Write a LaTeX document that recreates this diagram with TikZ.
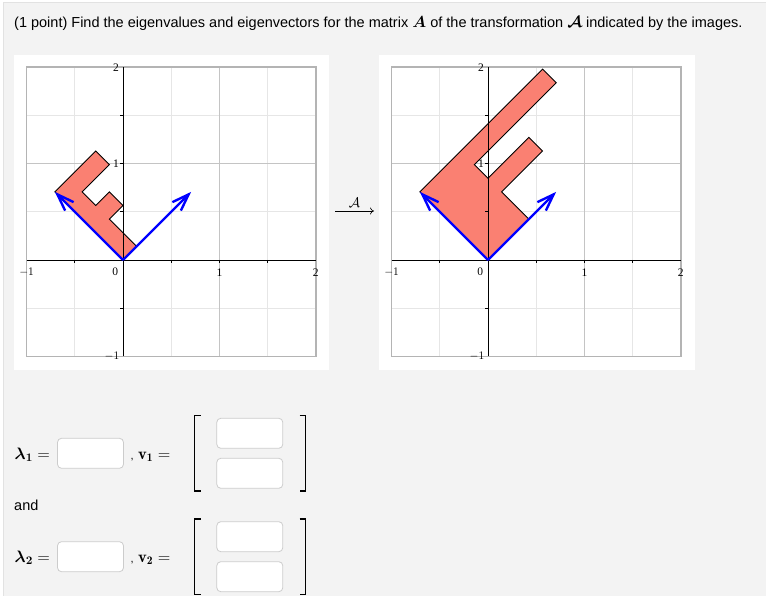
\RequirePackage{fix-cm}
\documentclass[tikz,border=0pt]{standalone}
\usepackage{amsmath,bm}
\usepackage{fontspec}
\newfontfamily\arialfont{Liberation Sans}
\newfontfamily\timesfont{Liberation Serif}
\usepackage{tikz}
\usetikzlibrary{arrows.meta, positioning}

\definecolor{pagegray}{HTML}{F3F3F3}
\definecolor{edgegray}{HTML}{E2E2E2}
\definecolor{gridlight}{HTML}{E6E6E6}
\definecolor{griddark}{HTML}{C4C4C4}
\definecolor{framegray}{HTML}{B4B4B4}
\definecolor{boxgray}{HTML}{CCCCCC}
\definecolor{salmonred}{HTML}{FA8072}

\begin{document}
\begin{tikzpicture}[
			x=1pt, y=-1pt,
			panel/.style={fill=white, draw=none},
			gridhalf/.style={gridlight, line width=0.8pt},
			gridone/.style={griddark, line width=0.8pt},
			plotframe/.style={framegray, line width=1.4pt},
			axisline/.style={black, line width=0.9pt},
			ticklabel/.style={font=\timesfont\fontsize{11.5}{12}\selectfont, inner sep=0pt},
			fshape/.style={draw=black, fill=salmonred, line width=0.9pt, line join=miter},
			eigvec/.style={draw=blue, line width=2.4pt, -{Straight Barb[length=17pt, width=12pt]}},
			mapto/.style={-{To[length=4pt, width=7pt]}, line width=0.6pt},
			ansbox/.style={draw=boxgray, fill=white, rounded corners=4pt, line width=0.8pt, minimum width=66pt, minimum height=30pt, inner sep=0pt},
			bracket/.style={line width=1.6pt},
			mathtext/.style={font=\fontsize{16.5}{18}\selectfont, inner sep=0pt, anchor=base west},
			plaintext/.style={font=\arialfont\fontsize{14.5}{17}\selectfont, inner sep=0pt, anchor=base west}
			]
			
			% Page
			\useasboundingbox (0,0) rectangle (766,596);
			\fill[white] (0,0) rectangle (766,596);
			\draw[fill=pagegray, draw=edgegray, line width=1pt] (3,2.5) rectangle (780,610);
			
			% Question
			\node (title) [plaintext] at (14,27.5) {(1 point) Find the eigenvalues and eigenvectors for the matrix {\fontsize{16}{18}\selectfont$\bm{A}$} of the transformation {\fontsize{16}{18}\selectfont$\bm{\mathcal{A}}$} indicated by the images.};
			
			% Panels
			\fill[panel] (14,55) rectangle (329,369.5);
			\fill[panel] (378.5,55) rectangle (694.5,369.5);
			
			% Plots (left: original, right: image)
			\foreach \ox/\pn/\sc in {123/L/1, 488/R/3} {
				\begin{scope}[shift={(\ox,260)}, x=96.4pt, y=96.4pt]
					\foreach \g in {-0.5,0.5,1.5} {
						\draw[gridhalf] (\g,-1) -- (\g,2);
						\draw[gridhalf] (-1,\g) -- (2,\g);
					}
					\draw[gridone] (1,-1) -- (1,2);
					\draw[gridone] (-1,1) -- (2,1);
					\draw[plotframe] (-1,-1) rectangle (2,2);
					
					\node (xm\pn) [ticklabel] at (-1,-0.13) {$-1$};
					\node (xz\pn) [ticklabel] at (-0.08,-0.125) {0};
					\node (xo\pn) [ticklabel] at (1,-0.13) {1};
					\node (xt\pn) [ticklabel] at (2,-0.13) {2};
					\node (yt\pn) [ticklabel, anchor=east] at (-0.04,2) {2};
					\node (yo\pn) [ticklabel, anchor=east] at (-0.04,1) {1};
					\node (ym\pn) [ticklabel, anchor=east] at (-0.035,-1) {$-1$};
					
					\begin{scope}[rotate=45, xscale=\sc]
						\draw[fshape] (0,0) -- (0.2,0) -- (0.2,0.4) -- (0.4,0.4) -- (0.4,0.6) -- (0.2,0.6)
							-- (0.2,0.8) -- (0.6,0.8) -- (0.6,1) -- (0,1) -- cycle;
					\end{scope}
					
					\draw[axisline] (-1,0) -- (2,0);
					\draw[axisline] (0,-1) -- (0,2);
					\foreach \t in {-0.5,0.5,1,1.5} {
						\draw[axisline] (\t,0) -- (\t,-0.03);
						\draw[axisline] (0,\t) -- (-0.03,\t);
					}
					
					\coordinate (o\pn) at (0,0);
					\coordinate (ea\pn) at (0.7071,0.7071);
					\coordinate (eb\pn) at (-0.7071,0.7071);
					\draw[eigvec] (o\pn) -- (ea\pn);
					\draw[eigvec] (o\pn) -- (eb\pn);
				\end{scope}
			}
			
			% Map arrow
			\coordinate (mapstart) at (335,211);
			\coordinate (mapend) at (374,211);
			\draw[mapto] (mapstart) -- node (calA) [above=3pt, font=\fontsize{14}{14}\selectfont, inner sep=0pt] {$\mathcal{A}$} (mapend);
			
			% First pair
			\node (lam1) [mathtext] at (14.5,459) {$\bm{\lambda_1} =$};
			\node (lbox1) [ansbox] at (90.5,453.3) {};
			\node (comma1) [plaintext, font=\arialfont\fontsize{11}{12}\selectfont] at (130.5,459) {,};
			\node (vec1) [mathtext] at (138,459) {$\mathbf{v_1} =$};
			\node (v1top) [ansbox] at (249.8,433.3) {};
			\node (v1bot) [ansbox] at (249.8,473.3) {};
			\draw[bracket] (200.5,415.5) -- (194.3,415.5) -- (194.3,491) -- (200.5,491);
			\draw[bracket] (299.5,415.5) -- (305.5,415.5) -- (305.5,491) -- (299.5,491);
			
			\node (andword) [plaintext] at (14,510) {and};
			
			% Second pair
			\node (lam2) [mathtext] at (14.5,562.4) {$\bm{\lambda_2} =$};
			\node (lbox2) [ansbox] at (90.5,556.7) {};
			\node (comma2) [plaintext, font=\arialfont\fontsize{11}{12}\selectfont] at (130.5,562.4) {,};
			\node (vec2) [mathtext] at (138,562.4) {$\mathbf{v_2} =$};
			\node (v2top) [ansbox] at (249.8,536.7) {};
			\node (v2bot) [ansbox] at (249.8,576.7) {};
			\draw[bracket] (200.5,518.9) -- (194.3,518.9) -- (194.3,594.4) -- (200.5,594.4);
			\draw[bracket] (299.5,518.9) -- (305.5,518.9) -- (305.5,594.4) -- (299.5,594.4);
			
		\end{tikzpicture}
\end{document}
